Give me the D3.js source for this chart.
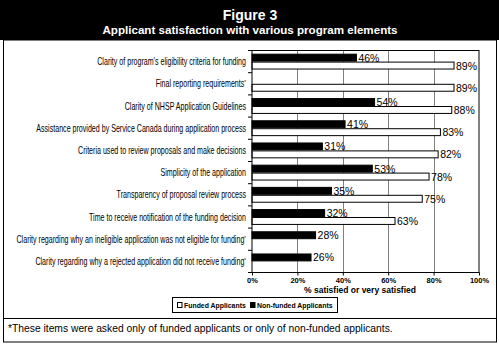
<!DOCTYPE html>
<html><head><meta charset="utf-8">
<script src="https://cdn.jsdelivr.net/npm/d3@7"></script>
<style>body{margin:0;background:#fff}svg{display:block}</style>
</head><body>
<svg id="c" width="499" height="344"></svg>
<script>
const categories = [
  "Clarity of program's eligibility criteria for funding",
  "Final reporting requirements*",
  "Clarity of NHSP Application  Guidelines",
  "Assistance provided by Service Canada during application process",
  "Criteria used to review proposals and make decisions",
  "Simplicity of the application",
  "Transparency of proposal review process",
  "Time to receive notification of the funding decision",
  "Clarity regarding why an ineligible application was not eligible for funding*",
  "Clarity regarding why a rejected application did not receive funding*"
];
const nonFunded = [46, null, 54, 41, 31, 53, 35, 32, 28, 26];
const funded = [89, 89, 88, 83, 82, 78, 75, 63, null, null];
const xTicks = [0, 20, 40, 60, 80, 100];
const seriesNames = ["Funded Applicants", "Non-funded Applicants"];

const FONT = "Liberation Sans, Arial, sans-serif";
const svg = d3.select("#c");
const W = 499, H = 344;
const m = {l: 252, r: 479, t: 50.5, b: 272.5};

// header
svg.append("rect").attr("x",0).attr("y",0).attr("width",W).attr("height",40).attr("fill","#000");
svg.append("text").attr("x",250).attr("y",20).attr("text-anchor","middle")
  .attr("fill","#fff").attr("font-family",FONT)
  .attr("font-weight","bold").attr("font-size",14).text("Figure 3");
svg.append("text").attr("x",250).attr("y",33.5).attr("text-anchor","middle")
  .attr("fill","#fff").attr("font-family",FONT)
  .attr("font-weight","bold").attr("font-size",11.6).text("Applicant satisfaction with various program elements");

// frame
svg.append("rect").attr("x",3.5).attr("y",40).attr("width",493).attr("height",302)
  .attr("fill","none").attr("stroke","#000").attr("stroke-width",1);
svg.append("line").attr("x1",3.5).attr("x2",496.5).attr("y1",318.5).attr("y2",318.5).attr("stroke","#000");

const x = d3.scaleLinear().domain([0,100]).range([m.l, m.r]);
const y = d3.scaleBand().domain(categories).range([m.t, m.b]).padding(0);
const y1 = d3.scaleBand().domain(["nf","f"]).range([0, y.bandwidth()]).paddingInner(0).paddingOuter(0.4);

// gridlines
svg.append("g").selectAll("line").data(xTicks.slice(1,-1)).join("line")
  .attr("x1",d=>Math.round(x(d))+0.5).attr("x2",d=>Math.round(x(d))+0.5)
  .attr("y1",m.t).attr("y2",m.b).attr("stroke","#808080").attr("stroke-width",1);

// bars
const g = svg.append("g");
categories.forEach((c,i)=>{
  const vals = [["nf",nonFunded[i]],["f",funded[i]]];
  vals.forEach(([k,v])=>{
    if(v==null) return;
    const yy = y(c)+y1(k);
    g.append("rect").attr("x",x(0)).attr("y",yy+0.5)
      .attr("width",x(v)-x(0)).attr("height",y1.bandwidth()-1)
      .attr("fill",k==="nf"?"#000":"#fff").attr("stroke","#000").attr("stroke-width",1);
    g.append("text").attr("x",x(v)+2).attr("y",yy+y1.bandwidth()/2+4)
      .attr("font-family",FONT).attr("font-size",10.5)
      .attr("fill","#000").text(v+"%");
  });
});

// plot border
svg.append("rect").attr("x",m.l).attr("y",m.t).attr("width",m.r-m.l).attr("height",m.b-m.t)
  .attr("fill","none").attr("stroke","#000").attr("stroke-width",1);

// left ticks at band boundaries
const bounds = categories.map(c=>y(c)).concat([m.b]);
svg.append("g").selectAll("line").data(bounds).join("line")
  .attr("x1",m.l-4).attr("x2",m.l).attr("y1",d=>d).attr("y2",d=>d).attr("stroke","#000");

// category labels (condensed by horizontal scaling)
const lab = svg.append("g").attr("font-family",FONT).attr("font-size",10).attr("text-anchor","end");
const labs = [];
categories.forEach(c=>{
  const star = c.endsWith("*");
  const t = lab.append("text").attr("x",0).attr("y",0);
  t.append("tspan").text(star? c.slice(0,-1): c);
  if(star) t.append("tspan").attr("font-size",6).attr("dy",-3).text("*");
  labs.push([c,t]);
});
const maxW = d3.max(labs, d=>d[1].node().getComputedTextLength());
const sx = 230/maxW;
labs.forEach(([c,t])=>t.attr("transform",`translate(${m.l-6},${y(c)+y.bandwidth()/2+3.5}) scale(${sx},1)`));

// x axis
const xa = d3.axisBottom(x).tickValues(xTicks).tickFormat(d=>d+"%").tickSize(3).tickPadding(2);
const ag = svg.append("g").attr("transform",`translate(0,${m.b})`).call(xa);
ag.select(".domain").remove();
ag.selectAll("text").attr("font-family",FONT).attr("font-weight","bold").attr("font-size",7.5);
svg.append("text").attr("x",360).attr("y",292.5).attr("text-anchor","middle")
  .attr("font-family",FONT).attr("font-weight","bold").attr("font-size",8.5)
  .text("% satisfied or very satisfied");

// legend
const lg = svg.append("g").attr("font-family",FONT).attr("font-weight","bold").attr("font-size",6.9);
lg.append("rect").attr("x",172.5).attr("y",297.5).attr("width",165).attr("height",15).attr("fill","#fff").attr("stroke","#000");
lg.append("rect").attr("x",177.5).attr("y",302.5).attr("width",4.5).attr("height",5).attr("fill","#fff").attr("stroke","#000");
lg.append("text").attr("x",184).attr("y",307.6).text(seriesNames[0]);
lg.append("rect").attr("x",250.5).attr("y",302.5).attr("width",4.5).attr("height",5).attr("fill","#000").attr("stroke","#000");
lg.append("text").attr("x",257).attr("y",307.6).text(seriesNames[1]);

// footnote
svg.append("text").attr("x",8).attr("y",332).attr("font-family",FONT)
  .attr("font-size",10.3).text("*These items were asked only of funded applicants or only of non-funded applicants.");
</script>
</body></html>
